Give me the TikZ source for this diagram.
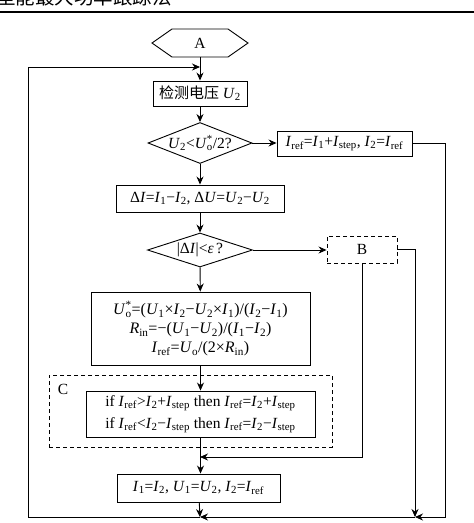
\documentclass[tikz,border=0pt]{standalone}
\usepackage{fontspec}
\setmainfont{Liberation Serif}
\newfontfamily\cjk{Noto Sans CJK SC}
\usetikzlibrary{shapes.geometric,shapes.symbols,arrows.meta}
\newcommand\Iv[1]{\textit{I}\textsubscript{#1}}
\newcommand\Uv[1]{\textit{U}\textsubscript{#1}}
\newcommand\Iref{\textit{I}\textsubscript{ref}}
\newcommand\Istep{\textit{I}\textsubscript{step}}
\newcommand\Rin{\textit{R}\textsubscript{in}}
\newcommand\Uos{\textit{U}\rlap{\textsuperscript{*}}\textsubscript{o}}
\begin{document}
\begin{tikzpicture}[x=1pt,y=-1pt,
  every node/.style={font=\fontsize{15.5}{18}\selectfont},
  box/.style={draw,line width=0.9pt,inner sep=2pt},
  dbox/.style={box,dashed,dash pattern=on 4pt off 3pt},
  dia/.style={draw,line width=0.9pt,diamond,inner sep=0pt},
  hexa/.style={draw,line width=0.9pt,signal,signal to=east and west,signal pointer angle=70,inner sep=0pt},
  arr/.style={line width=0.9pt,-{Stealth[length=8pt,width=7pt]}},
  ln/.style={line width=0.9pt}]
\useasboundingbox (0,0) rectangle (474,523);
% header
\begin{scope}
\clip (0,0) rectangle (474,7);
\node[anchor=base west,inner sep=0pt,font=\cjk\fontsize{19.5}{19.5}\selectfont] (hd) at (-4,4.5) {型能最大功率跟踪法};
\end{scope}
\draw[line width=1.2pt] (0,12) -- (474,12);
% nodes
\node[hexa,minimum width=96pt,minimum height=28pt] (A) at (200,43) {A};
\node[box,minimum width=94pt,minimum height=25pt] (detect) at (200,93.5) {{\cjk\fontsize{15}{18}\selectfont 检测电压} \Uv{2}};
\node[dia,minimum width=104pt,minimum height=41pt,aspect=2.5] (d1) at (200,143) {\Uv{2}<\Uos/2?};
\node[box,minimum width=135pt,minimum height=25pt] (r1) at (344.5,143.5) {\Iref=\Iv{1}+\Istep, \Iv{2}=\Iref};
\node[box,minimum width=168pt,minimum height=27pt] (dI) at (200,198.5) {Δ\textit{I}=\Iv{1}−\Iv{2}, Δ\textit{U}=\Uv{2}−\Uv{2}};
\node[dia,minimum width=105pt,minimum height=34pt,aspect=3.1] (d2) at (200,250) {|Δ\textit{I}|<\textit{ε}\,?};
\node[dbox,minimum width=70pt,minimum height=27pt] (B) at (362,249.5) {B};
\node[box,minimum width=219pt,minimum height=73pt,align=center,font=\fontsize{16}{19}\selectfont] (uo) at (200.5,328.5)
  {\Uos=(\Uv{1}×\Iv{2}−\Uv{2}×\Iv{1})/(\Iv{2}−\Iv{1})\\ \Rin=−(\Uv{1}−\Uv{2})/(\Iv{1}−\Iv{2})\\ \Iref=\Uv{o}/(2×\Rin)};
\node[dbox,minimum width=283pt,minimum height=72pt] (C) at (190.5,411) {};
\node[inner sep=0pt] (Clab) at (63,389) {C};
\node[box,minimum width=229pt,minimum height=46pt,align=center,font=\fontsize{15.5}{22}\selectfont] (inner) at (200.5,414)
  {if \Iref>\Iv{2}+\Istep{} then \Iref=\Iv{2}+\Istep\\ if \Iref<\Iv{2}−\Istep{} then \Iref=\Iv{2}−\Istep};
\node[box,minimum width=163pt,minimum height=28pt] (last) at (198.5,488) {\Iv{1}=\Iv{2}, \Uv{1}=\Uv{2}, \Iv{2}=\Iref};
% junctions
\coordinate (j0) at (200,67);
\coordinate (j1) at (200,457);
\coordinate (bot) at (200,517);
\coordinate (jb) at (415,517);
\coordinate (rc) at (445,517);
\coordinate (lb) at (28,517);
\coordinate (lt) at (28,67);
% connectors
\draw[arr] (A.south) -- (detect.north);
\draw[arr] (detect) -- (d1);
\draw[arr] (d1.east) -- (d1.east -| r1.west);
\draw[arr] (d1) -- (dI);
\draw[arr] (dI) -- (d2);
\draw[arr] (d2.east) -- (d2.east -| B.west);
\draw[arr] (d2) -- (uo);
\draw[arr] (uo.south) -- (uo.south |- inner.north);
\draw[arr] (inner.south |- C.south) -- (inner.south |- last.north);
\draw[ln] (inner.south) -- (inner.south |- C.south);
\draw[arr] (B.south) |- (j1);
\draw[arr] (last) -- (bot);
\draw[arr] (r1.east) -| (rc) -- (jb);
\draw[arr] (B.east) -| (jb);
\draw[arr] (jb) -- (bot);
\draw[arr] (bot) -- (lb) -- (lt) -- (j0);
\end{tikzpicture}
\end{document}
